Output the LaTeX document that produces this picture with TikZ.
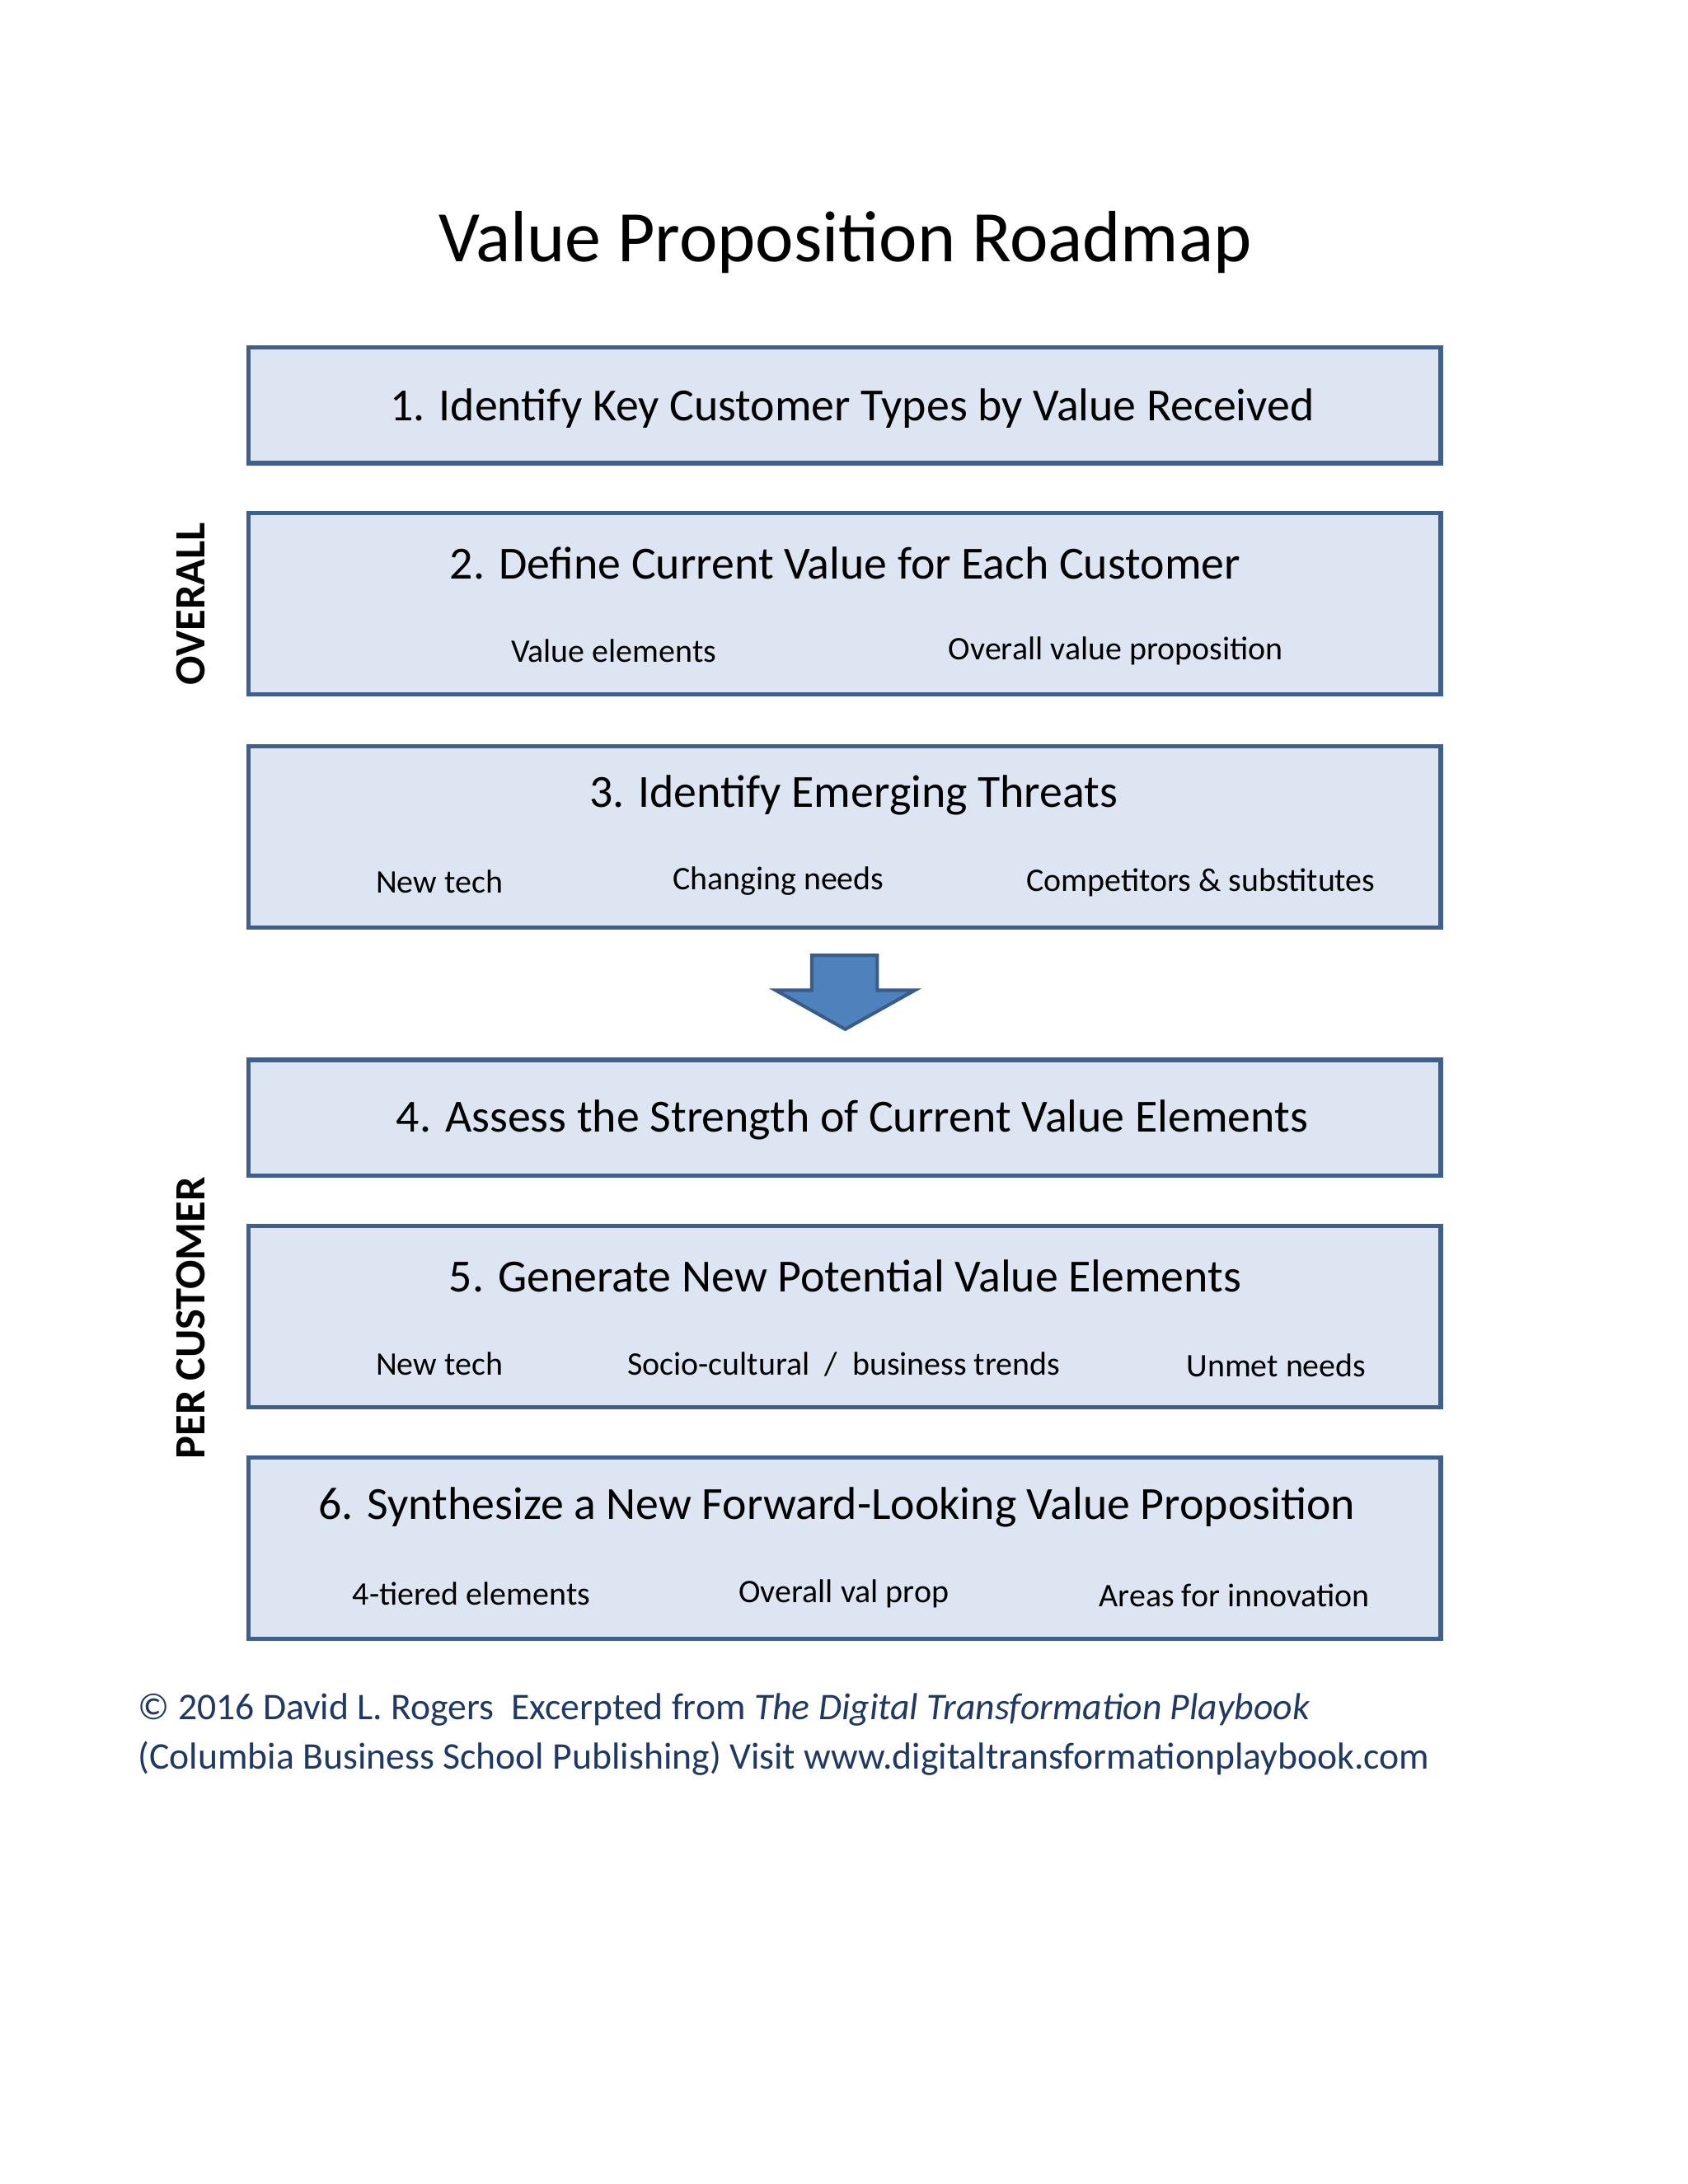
\documentclass[tikz,border=0pt]{standalone}
\usepackage{fontspec}
\setmainfont{Carlito}
\definecolor{boxfill}{HTML}{DCE5F1}
\definecolor{boxline}{HTML}{3F5F8F}
\definecolor{arrfill}{HTML}{4F81BD}
\definecolor{arrline}{HTML}{385D8A}
\definecolor{foot}{HTML}{1F3864}
\begin{document}
\begin{tikzpicture}[x=0.5pt,y=-0.5pt,
  stepbox/.style={draw=boxline,fill=boxfill,line width=1.6pt},
  ttl/.style={font=\fontsize{16.5}{19}\selectfont},
  sub/.style={font=\fontsize{11.8}{14}\selectfont},
  side/.style={font=\bfseries\fontsize{15.5}{18}\selectfont,rotate=90},
  ft/.style={font=\fontsize{13.5}{16}\selectfont,text=foot,anchor=west}]
\useasboundingbox (0,0) rectangle (1210,1566);
\node[font=\fontsize{26}{30}\selectfont] (title) at (606,174) {Value Proposition Roadmap};
\draw[stepbox] (178,249) rectangle (1033,332);
\draw[stepbox] (178,368) rectangle (1033,498);
\draw[stepbox] (178,535) rectangle (1033,665);
\draw[stepbox] (178,760) rectangle (1033,843);
\draw[stepbox] (178,879) rectangle (1033,1009);
\draw[stepbox] (178,1045) rectangle (1033,1175);
\node[ttl] (t1) at (611,293) {1. Identify Key Customer Types by Value Received};
\node[ttl] (t2) at (606,404) {2. Define Current Value for Each Customer};
\node[sub] (s21) at (440,467) {Value elements};
\node[sub] (s22) at (800,467) {Overall value proposition};
\node[ttl] (t3) at (612,570) {3. Identify Emerging Threats};
\node[sub] (s31) at (315,632) {New tech};
\node[sub] (s32) at (558,632) {Changing needs};
\node[sub] (s33) at (861,633) {Competitors \& substitutes};
\node[ttl] (t4) at (611,803) {4. Assess the Strength of Current Value Elements};
\node[ttl] (t5) at (606,915) {5. Generate New Potential Value Elements};
\node[sub] (s51) at (315,978) {New tech};
\node[sub] (s52) at (605,978) {Socio-cultural \ / \ business trends};
\node[sub] (s53) at (915,979) {Unmet needs};
\node[ttl] (t6) at (600,1081) {6. Synthesize a New Forward-Looking Value Proposition};
\node[sub] (s61) at (338,1143) {4-tiered elements};
\node[sub] (s62) at (605,1143) {Overall val prop};
\node[sub] (s63) at (885,1144) {Areas for innovation};
\draw[fill=arrfill,draw=arrline,line width=1.2pt] (582,685) -- (629,685) -- (629,710) -- (656,710) -- (606,738) -- (556,710) -- (582,710) -- cycle;
\node[side] (ov) at (137,433) {OVERALL};
\node[side] (pc) at (137,945) {PER CUSTOMER};
\node[ft] (f1) at (92,1226) {© 2016 David L. Rogers\ \ Excerpted from \textit{The Digital Transformation Playbook}};
\node[ft] (f2) at (92,1261) {(Columbia Business School Publishing) Visit www.digitaltransformationplaybook.com};
\end{tikzpicture}
\end{document}
